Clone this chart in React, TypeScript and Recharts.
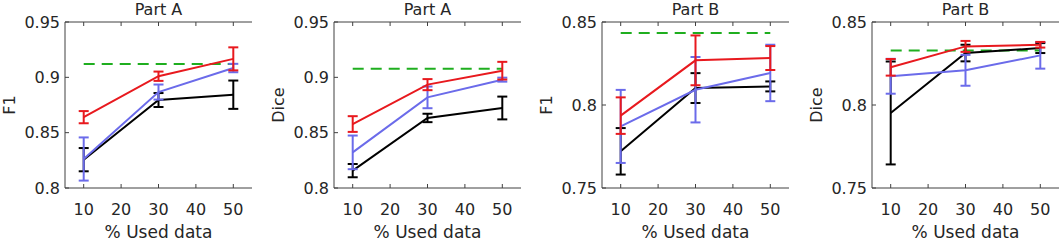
import React from 'react';
import { LineChart, Line, XAxis, YAxis, ErrorBar } from 'recharts';

const usedData = [10, 30, 50];
const xTicks = [10, 20, 30, 40, 50];
const ticksPartA = [0.8, 0.85, 0.9, 0.95];
const ticksPartB = [0.75, 0.8, 0.85];

// Part A - F1
const aF1Black = [0.8256, 0.8795, 0.8843];
const aF1BlackErr = [0.0105, 0.0063, 0.0128];
const aF1Blue = [0.8262, 0.8867, 0.9084];
const aF1BlueErr = [0.0195, 0.0068, 0.0038];
const aF1Red = [0.864, 0.901, 0.9167];
const aF1RedErr = [0.0055, 0.0042, 0.0104];
const aF1Green = 0.912;

// Part A - Dice
const aDiceBlack = [0.8157, 0.8633, 0.8723];
const aDiceBlackErr = [0.006, 0.0038, 0.0103];
const aDiceBlue = [0.8322, 0.8819, 0.8979];
const aDiceBlueErr = [0.0152, 0.0098, 0.0018];
const aDiceRed = [0.8578, 0.8934, 0.906];
const aDiceRedErr = [0.0071, 0.005, 0.008];
const aDiceGreen = 0.9078;

// Part B - F1
const bF1Black = [0.7721, 0.8102, 0.8112];
const bF1BlackErr = [0.014, 0.009, 0.003];
const bF1Blue = [0.7871, 0.8092, 0.8193];
const bF1BlueErr = [0.022, 0.0197, 0.017];
const bF1Red = [0.7936, 0.8269, 0.8283];
const bF1RedErr = [0.011, 0.015, 0.0072];
const bF1Green = 0.8434;

// Part B - Dice
const bDiceBlack = [0.7952, 0.8313, 0.8343];
const bDiceBlackErr = [0.031, 0.005, 0.003];
const bDiceBlue = [0.8173, 0.8209, 0.8299];
const bDiceBlueErr = [0.0105, 0.0093, 0.008];
const bDiceRed = [0.8227, 0.8353, 0.8363];
const bDiceRedErr = [0.005, 0.0033, 0.0017];
const bDiceGreen = 0.8329;

const RED = '#e8191e';
const BLUE = '#6b6bea';
const BLACK = '#000000';
const GREEN = '#1fae1f';
const AXIS = '#404040';
const TEXT = '#262626';
const FONT = '"DejaVu Sans", sans-serif';

function buildRows(black: number[], blackErr: number[], blue: number[], blueErr: number[], red: number[], redErr: number[], green: number) {
  return usedData.map((x, i) => ({
    x,
    black: black[i],
    blackErr: blackErr[i],
    blue: blue[i],
    blueErr: blueErr[i],
    red: red[i],
    redErr: redErr[i],
    green,
  }));
}

interface PanelProps {
  title: string;
  yLabel: string;
  yDomain: [number, number];
  yTicks: number[];
  rows: ReturnType<typeof buildRows>;
  plotLeft: number;
}

const blank = () => '';

function Panel({ title, yLabel, yDomain, yTicks, rows, plotLeft }: PanelProps) {
  const axisW = 66;
  const plotW = 187;
  return (
    <div style={{ position: 'absolute', left: plotLeft - axisW, top: 0 }}>
      <LineChart width={axisW + plotW + 2} height={242} data={rows} margin={{ top: 0, right: 2, bottom: 0, left: 0 }}>
        <XAxis
          xAxisId="b"
          dataKey="x"
          type="number"
          domain={[5, 55]}
          ticks={xTicks}
          allowDataOverflow
          height={54}
          stroke={AXIS}
          tickSize={-4}
          tickMargin={20}
          tick={{ fill: TEXT, fontSize: 16, fontFamily: FONT }}
          label={{ value: '% Used data', position: 'insideBottom', offset: 4, fill: TEXT, fontSize: 17, fontFamily: FONT }}
        />
        <XAxis
          xAxisId="t"
          orientation="top"
          dataKey="x"
          type="number"
          domain={[5, 55]}
          ticks={xTicks}
          allowDataOverflow
          height={22}
          stroke={AXIS}
          tickSize={-4}
          tickFormatter={blank}
          label={{ value: title, position: 'insideTop', offset: 4, fill: TEXT, fontSize: 16, fontFamily: FONT }}
        />
        <YAxis
          yAxisId="l"
          type="number"
          domain={yDomain}
          ticks={yTicks}
          allowDataOverflow
          width={axisW}
          stroke={AXIS}
          tickSize={-4}
          tickMargin={9}
          tick={{ fill: TEXT, fontSize: 16, fontFamily: FONT }}
          label={{ value: yLabel, angle: -90, position: 'insideLeft', offset: 10, fill: TEXT, fontSize: 16, fontFamily: FONT, style: { textAnchor: 'middle' } }}
        />
        <YAxis
          yAxisId="r"
          orientation="right"
          type="number"
          domain={yDomain}
          ticks={yTicks}
          allowDataOverflow
          width={0}
          stroke={AXIS}
          tickSize={-4}
          tickFormatter={blank}
        />
        <Line xAxisId="b" yAxisId="l" type="linear" dataKey="green" stroke={GREEN} strokeWidth={2} strokeDasharray="11 7" dot={false} isAnimationActive={false} />
        <Line xAxisId="b" yAxisId="l" type="linear" dataKey="black" stroke={BLACK} strokeWidth={2} dot={false} isAnimationActive={false}>
          <ErrorBar dataKey="blackErr" direction="y" width={5} stroke={BLACK} strokeWidth={2} isAnimationActive={false} />
        </Line>
        <Line xAxisId="b" yAxisId="l" type="linear" dataKey="blue" stroke={BLUE} strokeWidth={2} dot={false} isAnimationActive={false}>
          <ErrorBar dataKey="blueErr" direction="y" width={5} stroke={BLUE} strokeWidth={2} isAnimationActive={false} />
        </Line>
        <Line xAxisId="b" yAxisId="l" type="linear" dataKey="red" stroke={RED} strokeWidth={2} dot={false} isAnimationActive={false}>
          <ErrorBar dataKey="redErr" direction="y" width={5} stroke={RED} strokeWidth={2} isAnimationActive={false} />
        </Line>
      </LineChart>
    </div>
  );
}

export default function App() {
  return (
    <div style={{ position: 'absolute', left: 0, top: 0, width: 1061, height: 242, overflow: 'hidden', background: '#fff' }}>
      <Panel title="Part A" yLabel="F1" yDomain={[0.8, 0.95]} yTicks={ticksPartA} plotLeft={64.5}
        rows={buildRows(aF1Black, aF1BlackErr, aF1Blue, aF1BlueErr, aF1Red, aF1RedErr, aF1Green)} />
      <Panel title="Part A" yLabel="Dice" yDomain={[0.8, 0.95]} yTicks={ticksPartA} plotLeft={334}
        rows={buildRows(aDiceBlack, aDiceBlackErr, aDiceBlue, aDiceBlueErr, aDiceRed, aDiceRedErr, aDiceGreen)} />
      <Panel title="Part B" yLabel="F1" yDomain={[0.75, 0.85]} yTicks={ticksPartB} plotLeft={602}
        rows={buildRows(bF1Black, bF1BlackErr, bF1Blue, bF1BlueErr, bF1Red, bF1RedErr, bF1Green)} />
      <Panel title="Part B" yLabel="Dice" yDomain={[0.75, 0.85]} yTicks={ticksPartB} plotLeft={872}
        rows={buildRows(bDiceBlack, bDiceBlackErr, bDiceBlue, bDiceBlueErr, bDiceRed, bDiceRedErr, bDiceGreen)} />
    </div>
  );
}
